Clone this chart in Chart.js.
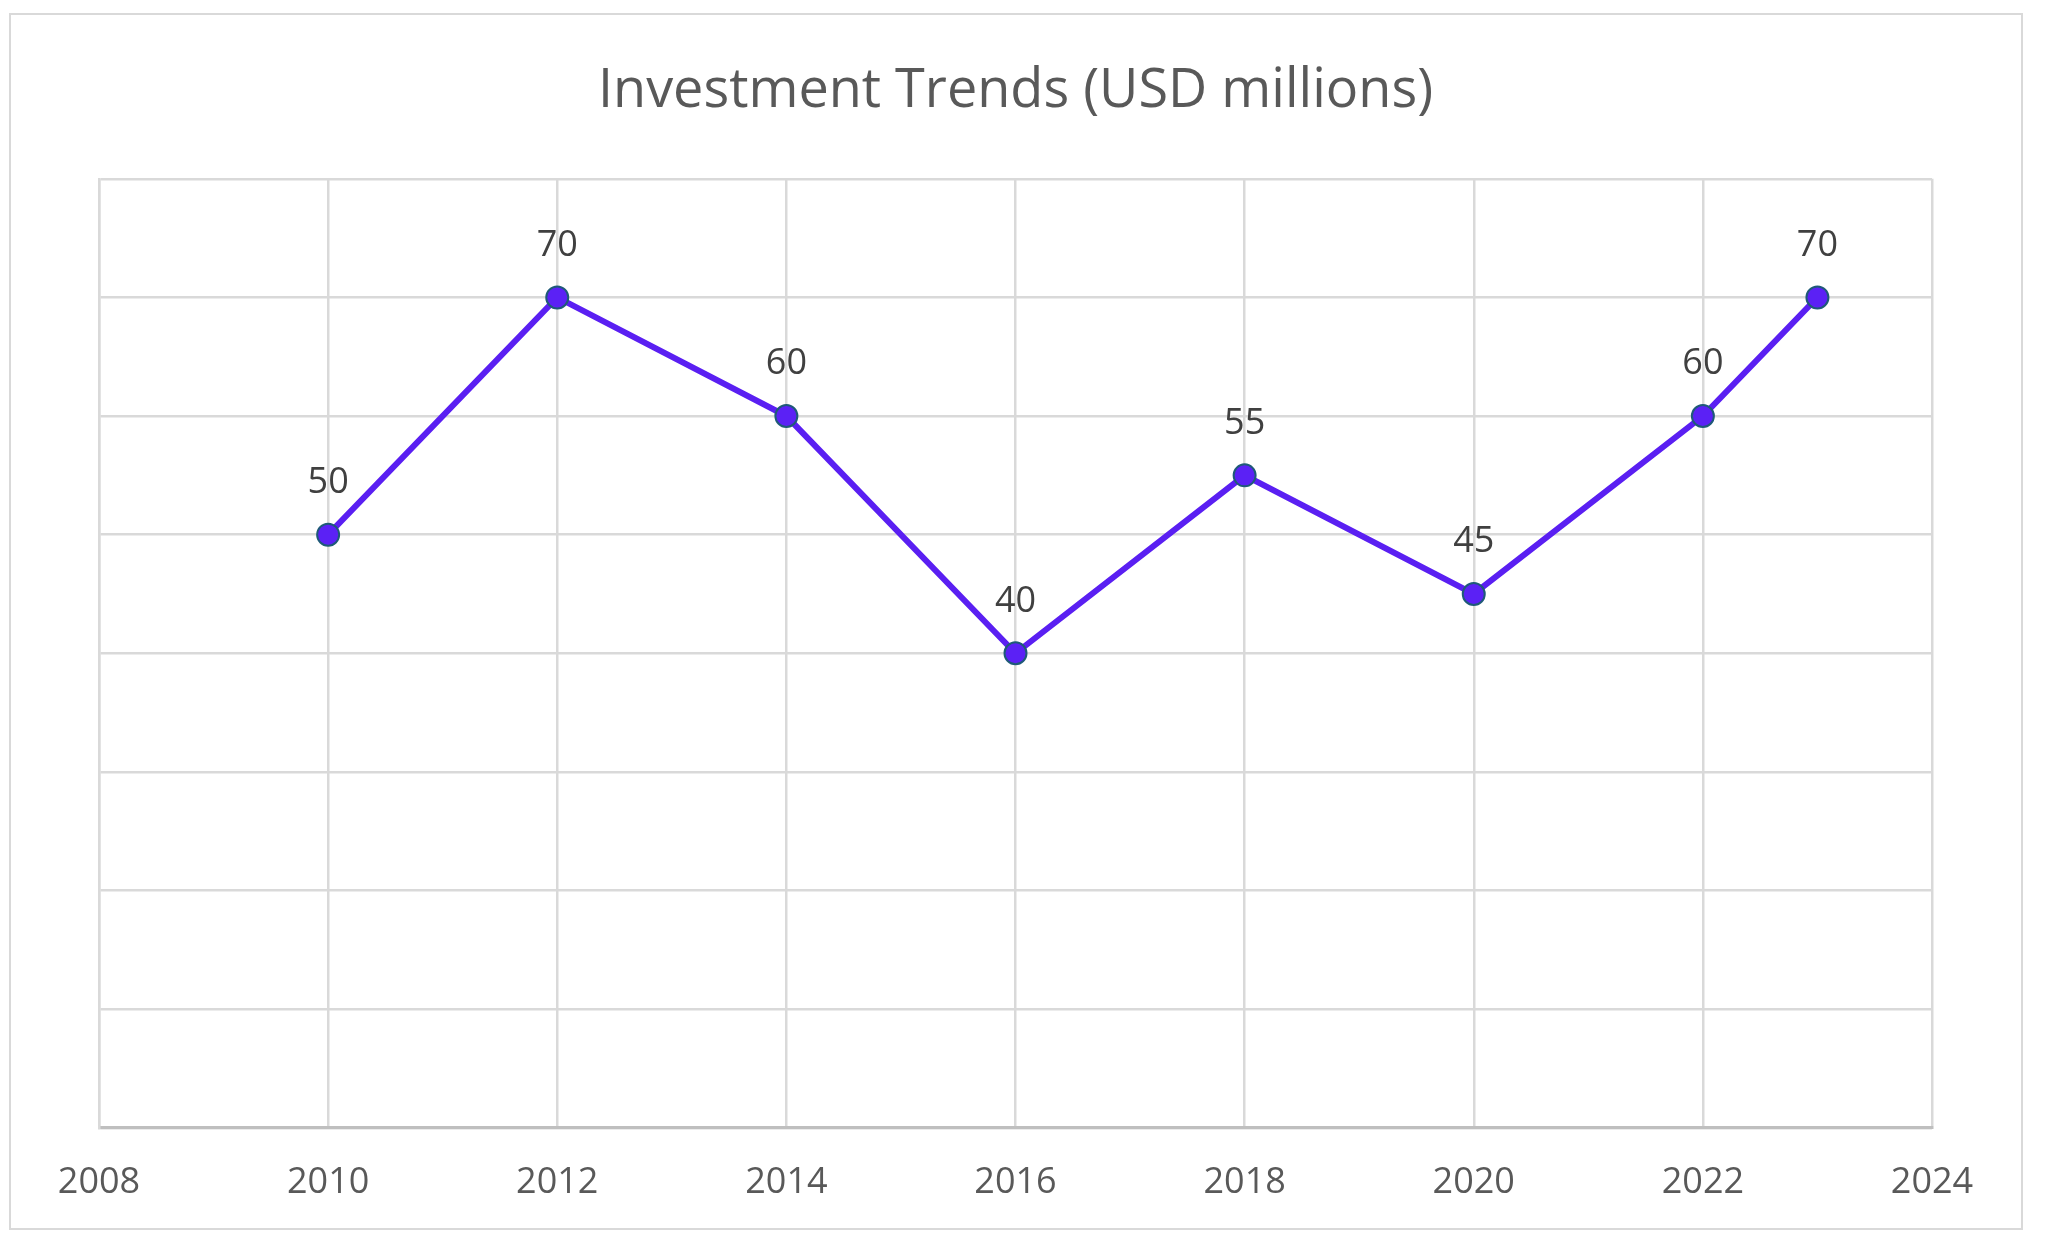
<!DOCTYPE html>
<html>
<head>
<meta charset="utf-8">
<script src="https://cdn.jsdelivr.net/npm/chart.js@4.4.1/dist/chart.umd.min.js"></script>
<style>
  html, body { margin: 0; padding: 0; background: #ffffff; }
  #wrap { width: 2048px; height: 1251px; position: relative; }
  canvas { display: block; }
</style>
</head>
<body>
<div id="wrap"><canvas id="c" width="2048" height="1251"></canvas></div>
<script>
const titleText = "Investment Trends (USD millions)";
const years = [2010, 2012, 2014, 2016, 2018, 2020, 2022, 2023];
const investment = [50, 70, 60, 40, 55, 45, 60, 70];
const xMin = 2008, xMax = 2024, xStep = 2;
const yMin = 0, yMax = 80, yStep = 10;

const points = years.map((y, i) => ({ x: y, y: investment[i] }));

const frame = {
  id: 'frame',
  beforeDraw(chart) {
    const ctx = chart.ctx;
    ctx.save();
    ctx.fillStyle = '#ffffff';
    ctx.fillRect(0, 0, chart.width, chart.height);
    ctx.strokeStyle = '#d9d9d9';
    ctx.lineWidth = 2;
    ctx.strokeRect(10, 14, 2012, 1215);
    ctx.restore();
  }
};

const valueLabels = {
  id: 'valueLabels',
  afterDatasetsDraw(chart) {
    const ctx = chart.ctx;
    const meta = chart.getDatasetMeta(0);
    ctx.save();
    ctx.font = '36px "Open Sans"';
    ctx.fillStyle = '#404040';
    ctx.textAlign = 'center';
    ctx.textBaseline = 'middle';
    meta.data.forEach((pt, i) => {
      ctx.fillText(String(investment[i]), pt.x, pt.y - 52);
    });
    ctx.restore();
  }
};

new Chart(document.getElementById('c'), {
  type: 'line',
  data: {
    datasets: [{
      data: points,
      borderColor: '#5a1ff2',
      borderWidth: 6,
      backgroundColor: '#5b21f5',
      pointBackgroundColor: '#5b21f5',
      pointBorderColor: '#1f5a78',
      pointBorderWidth: 2,
      pointRadius: 11,
      tension: 0,
      fill: false
    }]
  },
  options: {
    responsive: false,
    animation: false,
    devicePixelRatio: 1,
    layout: { padding: { left: 99, right: 116, top: 20, bottom: 14 } },
    plugins: {
      legend: { display: false },
      tooltip: { enabled: false },
      title: {
        display: true,
        text: titleText,
        color: '#595959',
        font: { family: '"Open Sans"', size: 54, weight: 'normal' },
        padding: { top: 39, bottom: 55 }
      }
    },
    scales: {
      x: {
        type: 'linear',
        min: xMin, max: xMax,
        ticks: {
          stepSize: xStep,
          color: '#595959',
          font: { family: '"Open Sans"', size: 36 },
          padding: 33,
          callback: v => String(v)
        },
        grid: { color: '#d9d9d9', lineWidth: 2.5, drawTicks: false },
        border: { color: '#bfbfbf', width: 3 }
      },
      y: {
        min: yMin, max: yMax,
        ticks: { stepSize: yStep, display: false },
        grid: { color: '#d9d9d9', lineWidth: 2.5, drawTicks: false },
        border: { color: '#d9d9d9', width: 2.5 }
      }
    }
  },
  plugins: [frame, valueLabels]
});
</script>
</body>
</html>
